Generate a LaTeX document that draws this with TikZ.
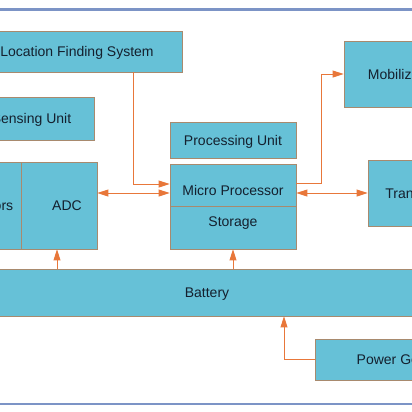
\documentclass[tikz,border=0pt]{standalone}
\usepackage{fontspec}
\setmainfont{Liberation Sans}
\usetikzlibrary{arrows.meta}
\definecolor{boxfill}{HTML}{66C1D7}
\definecolor{boxline}{HTML}{A88A6E}
\definecolor{arr}{HTML}{E8773A}
\definecolor{rulecol}{HTML}{7C94C6}
\definecolor{ink}{HTML}{14202E}
\begin{document}
\begin{tikzpicture}[x=1bp,y=-1bp,
  txt/.style={text=ink,font=\fontsize{14bp}{16bp}\selectfont,inner sep=0pt,text height=10bp,text depth=0bp},
  box/.style={txt,draw=boxline,fill=boxfill,line width=0.8bp},
  con/.style={draw=arr,line width=0.9bp,-{Triangle[length=11bp,width=7bp]}},
  dcon/.style={draw=arr,line width=0.9bp,{Triangle[length=11bp,width=7bp]}-{Triangle[length=11bp,width=7bp]}}]
\useasboundingbox (0,0) rectangle (412,412);
\clip (0,0) rectangle (412,412);
% rules
\draw[rulecol,line width=2.5bp] (0,9.3) -- (412,9.3);
\draw[rulecol,line width=2.5bp] (0,404) -- (412,404);
% boxes
\node[box,minimum width=210bp,minimum height=41bp] (lfs) at (77,51.5) {Location Finding System};
\node[box,minimum width=125bp,minimum height=43bp] (su) at (31.5,118.5) {Sensing Unit};
\node[box,minimum width=67bp,minimum height=87bp] (sen) at (-12.5,205.5) {Sensors};
\node[box,minimum width=76bp,minimum height=87bp,label={[txt,xshift=8bp]center:ADC}] (adc) at (59,205.5) {};
\node[box,minimum width=126bp,minimum height=36bp] (pu) at (233,140) {Processing Unit};
\node[box,minimum width=126bp,minimum height=42bp,label={[txt,yshift=-5.5bp]center:Micro Processor}] (mp) at (233,185) {};
\node[box,minimum width=126bp,minimum height=43bp,label={[txt,yshift=6.5bp]center:Storage}] (st) at (233,227.5) {};
\node[box,minimum width=104bp,minimum height=66bp] (mob) at (396,74) {Mobilizer};
\node[box,minimum width=105bp,minimum height=66bp] (tr) at (420.5,193) {Transmitter};
\node[box,minimum width=460bp,minimum height=47bp] (bat) at (207,292.5) {Battery};
\node[box,minimum width=190bp,minimum height=41bp] (pg) at (410,359.5) {Power Generator};
% connectors
\draw[con] ([xshift=56bp]lfs.south) |- ([yshift=1bp]mp.west);
\draw[dcon] ([yshift=-8bp]mp.west) -- ([yshift=-8bp]mp.west -| adc.east);
\draw[dcon] ([yshift=-8bp]mp.east) -- ([yshift=-8bp]mp.east -| tr.west);
\draw[con] ([yshift=2bp]mp.east) -- ++(25,0) |- (mob.west);
\draw[con] ([xshift=-2bp]adc.south |- bat.north) -- ([xshift=-2bp]adc.south);
\draw[con] (st.south |- bat.north) -- (st.south);
\draw[con] (pg.west) -| ([xshift=77bp]bat.south);
\end{tikzpicture}
\end{document}
